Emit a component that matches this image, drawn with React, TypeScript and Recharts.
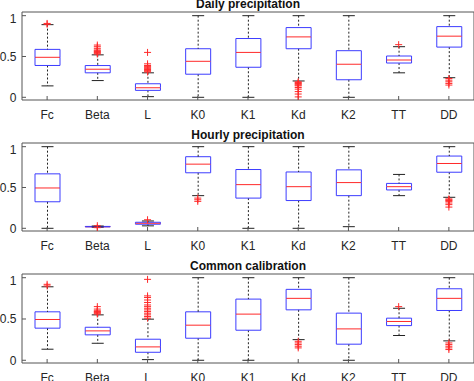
import { ComposedChart, Bar, Scatter, XAxis, YAxis } from "recharts";

const categories = ["Fc", "Beta", "L", "K0", "K1", "Kd", "K2", "TT", "DD"];
const yTicks = [0, 0.5, 1];

type Outlier = [string, number];

// Daily precipitation
const dailyLow = [0.14, 0.205, 0.008, 0, 0, 0.2, 0, 0.3, 0.24];
const dailyQ1 = [0.39, 0.3, 0.085, 0.283, 0.368, 0.595, 0.215, 0.42, 0.615];
const dailyMed = [0.49, 0.344, 0.117, 0.441, 0.55, 0.74, 0.405, 0.457, 0.749];
const dailyQ3 = [0.587, 0.389, 0.166, 0.595, 0.72, 0.854, 0.571, 0.506, 0.866];
const dailyHigh = [0.89, 0.52, 0.3, 1, 1, 1, 1, 0.62, 1];
const dailyOutliers: Outlier[] = [
  ["Fc", 0.895], ["Fc", 0.905],
  ["Beta", 0.53], ["Beta", 0.54], ["Beta", 0.55], ["Beta", 0.56], ["Beta", 0.57],
  ["Beta", 0.58], ["Beta", 0.6], ["Beta", 0.62], ["Beta", 0.64],
  ["L", 0.31], ["L", 0.32], ["L", 0.33], ["L", 0.34], ["L", 0.35], ["L", 0.36],
  ["L", 0.37], ["L", 0.38], ["L", 0.39], ["L", 0.41], ["L", 0.55],
  ["Kd", 0.19], ["Kd", 0.18], ["Kd", 0.17], ["Kd", 0.16], ["Kd", 0.15], ["Kd", 0.14],
  ["Kd", 0.12], ["Kd", 0.1], ["Kd", 0.07], ["Kd", 0.04], ["Kd", 0.005],
  ["TT", 0.645],
  ["DD", 0.23], ["DD", 0.21], ["DD", 0.19], ["DD", 0.17], ["DD", 0.15],
];

// Hourly precipitation
const hourlyLow = [0, 0.012, 0.03, 0.4, 0, 0, 0.02, 0.4, 0.38];
const hourlyQ1 = [0.325, 0.017, 0.05, 0.68, 0.37, 0.34, 0.4, 0.47, 0.687];
const hourlyMed = [0.494, 0.02, 0.062, 0.786, 0.535, 0.51, 0.56, 0.51, 0.794];
const hourlyQ3 = [0.667, 0.023, 0.074, 0.877, 0.72, 0.69, 0.716, 0.55, 0.885];
const hourlyHigh = [1, 0.028, 0.09, 1, 1, 1, 1, 0.66, 1];
const hourlyOutliers: Outlier[] = [
  ["Beta", 0.008], ["Beta", 0.032],
  ["L", 0.105],
  ["K0", 0.37], ["K0", 0.35], ["K0", 0.33],
  ["DD", 0.36], ["DD", 0.35], ["DD", 0.34], ["DD", 0.33], ["DD", 0.31], ["DD", 0.29], ["DD", 0.26],
];

// Common calibration
const commonLow = [0.134, 0.206, 0.008, 0, 0, 0.25, 0, 0.3, 0.235];
const commonQ1 = [0.389, 0.308, 0.097, 0.267, 0.364, 0.611, 0.195, 0.42, 0.603];
const commonMed = [0.494, 0.356, 0.162, 0.425, 0.559, 0.75, 0.38, 0.47, 0.75];
const commonQ3 = [0.587, 0.4, 0.255, 0.587, 0.741, 0.859, 0.571, 0.51, 0.866];
const commonHigh = [0.89, 0.55, 0.498, 1, 1, 1, 1, 0.63, 1];
const commonOutliers: Outlier[] = [
  ["Fc", 0.9], ["Fc", 0.92],
  ["Beta", 0.56], ["Beta", 0.57], ["Beta", 0.58], ["Beta", 0.59], ["Beta", 0.6], ["Beta", 0.62], ["Beta", 0.65],
  ["L", 0.51], ["L", 0.53], ["L", 0.55], ["L", 0.57], ["L", 0.59], ["L", 0.61], ["L", 0.63],
  ["L", 0.65], ["L", 0.67], ["L", 0.7], ["L", 0.73], ["L", 0.76], ["L", 0.78], ["L", 0.98],
  ["Kd", 0.23], ["Kd", 0.21], ["Kd", 0.19], ["Kd", 0.17], ["Kd", 0.15],
  ["TT", 0.65],
  ["DD", 0.21], ["DD", 0.19], ["DD", 0.17], ["DD", 0.15], ["DD", 0.13],
];

const BOX = "#3c3cff";
const MED = "#ff2a2a";
const WHISK = "#222";
const AXIS = "#555";
const domain: [number, number] = [-0.033, 1.045];

function buildRows(lo: number[], q1: number[], med: number[], q3: number[], hi: number[]) {
  return categories.map((name, i) => ({
    name,
    base: lo[i],
    lw: q1[i] - lo[i],
    lb: med[i] - q1[i],
    ub: q3[i] - med[i],
    uw: hi[i] - q3[i],
  }));
}

function LowWhisker(p: any) {
  const cx = p.x + p.width / 2;
  const bottom = p.y + p.height;
  return (
    <g>
      <line x1={cx} x2={cx} y1={p.y} y2={bottom} stroke={WHISK} strokeDasharray="2 2" />
      <line x1={cx - 6} x2={cx + 6} y1={bottom} y2={bottom} stroke={WHISK} />
    </g>
  );
}

function HighWhisker(p: any) {
  const cx = p.x + p.width / 2;
  return (
    <g>
      <line x1={cx} x2={cx} y1={p.y} y2={p.y + p.height} stroke={WHISK} strokeDasharray="2 2" />
      <line x1={cx - 6} x2={cx + 6} y1={p.y} y2={p.y} stroke={WHISK} />
    </g>
  );
}

// q1 -> median: sides and bottom in blue, median on top in red
function LowerBox(p: any) {
  const { x, y, width, height } = p;
  const b = y + height;
  return (
    <g>
      <path d={`M${x},${y} L${x},${b} L${x + width},${b} L${x + width},${y}`} fill="none" stroke={BOX} />
      <line x1={x} x2={x + width} y1={y} y2={y} stroke={MED} />
    </g>
  );
}

function UpperBox(p: any) {
  const { x, y, width, height } = p;
  const b = y + height;
  return <path d={`M${x},${b} L${x},${y} L${x + width},${y} L${x + width},${b}`} fill="none" stroke={BOX} />;
}

function Plus(p: any) {
  const { cx, cy } = p;
  return (
    <g stroke={MED}>
      <line x1={cx - 3.5} x2={cx + 3.5} y1={cy} y2={cy} />
      <line x1={cx} x2={cx} y1={cy - 3.5} y2={cy + 3.5} />
    </g>
  );
}

function Panel({ title, top, plotH, rows, outliers }: {
  title: string; top: number; plotH: number; rows: any[]; outliers: Outlier[];
}) {
  const pts = outliers.map(([name, v]) => ({ name, v }));
  const tickStyle = { fontSize: 12, fill: "#262626" };
  return (
    <>
      <div style={{ position: "absolute", left: 22, width: 452, top: top - 15, textAlign: "center",
                    fontWeight: "bold", fontSize: 12, lineHeight: "14px", color: "#111" }}>{title}</div>
      <div style={{ position: "absolute", left: 0, top: top - 1 }}>
        <ComposedChart width={475} height={plotH + 25} data={rows} margin={{ top: 0, right: 0, bottom: 0, left: 0 }}>
          <XAxis dataKey="name" allowDuplicatedCategory={false} height={24} tickSize={-4} tickMargin={14.5}
                 tick={tickStyle} axisLine={{ stroke: AXIS }} tickLine={{ stroke: AXIS }} />
          <XAxis xAxisId="t" dataKey="name" orientation="top" allowDuplicatedCategory={false} height={1}
                 tick={false} tickSize={-4} axisLine={{ stroke: AXIS }} tickLine={{ stroke: AXIS }} />
          <YAxis type="number" domain={domain} ticks={yTicks} allowDataOverflow width={22} tickSize={-4}
                 tickMargin={9.5} tick={tickStyle} axisLine={{ stroke: AXIS }} tickLine={{ stroke: AXIS }} />
          <YAxis yAxisId="r" orientation="right" type="number" domain={domain} ticks={yTicks} allowDataOverflow
                 width={1} tick={false} tickSize={-4} axisLine={{ stroke: AXIS }} tickLine={{ stroke: AXIS }} />
          <Bar stackId="b" dataKey="base" fill="none" barSize={25} isAnimationActive={false} />
          <Bar stackId="b" dataKey="lw" shape={LowWhisker} barSize={25} isAnimationActive={false} />
          <Bar stackId="b" dataKey="lb" shape={LowerBox} barSize={25} isAnimationActive={false} />
          <Bar stackId="b" dataKey="ub" shape={UpperBox} barSize={25} isAnimationActive={false} />
          <Bar stackId="b" dataKey="uw" shape={HighWhisker} barSize={25} isAnimationActive={false} />
          <Scatter data={pts} dataKey="v" shape={Plus} isAnimationActive={false} />
        </ComposedChart>
      </div>
    </>
  );
}

export default function App() {
  return (
    <div style={{ position: "absolute", left: 0, top: 0, width: 474, height: 381, overflow: "hidden",
                  background: "#fff", fontFamily: "'Liberation Sans', Arial, sans-serif" }}>
      <Panel title="Daily precipitation" top={12} plotH={88}
             rows={buildRows(dailyLow, dailyQ1, dailyMed, dailyQ3, dailyHigh)} outliers={dailyOutliers} />
      <Panel title="Hourly precipitation" top={143} plotH={88}
             rows={buildRows(hourlyLow, hourlyQ1, hourlyMed, hourlyQ3, hourlyHigh)} outliers={hourlyOutliers} />
      <Panel title="Common calibration" top={274} plotH={89}
             rows={buildRows(commonLow, commonQ1, commonMed, commonQ3, commonHigh)} outliers={commonOutliers} />
    </div>
  );
}
